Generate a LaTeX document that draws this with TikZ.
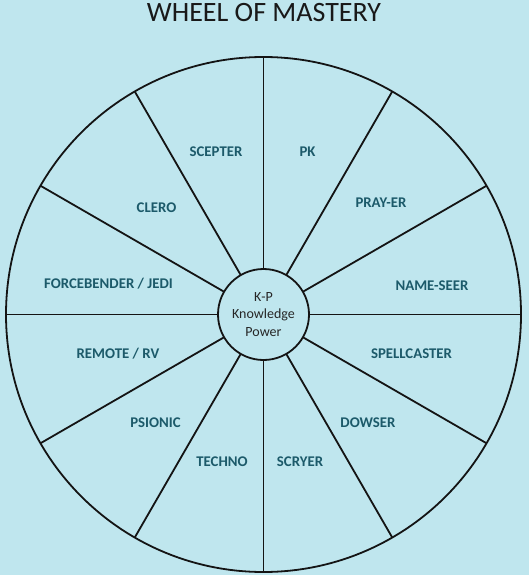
\documentclass[tikz,border=0pt]{standalone}
\usepackage{fontspec}
\setmainfont{Carlito}
\definecolor{bgc}{RGB}{191,230,238}
\definecolor{labc}{RGB}{28,90,106}
\definecolor{linec}{RGB}{20,20,20}
\begin{document}
\begin{tikzpicture}[x=1pt,y=1pt,
  ring/.style={circle,draw=linec,line width=1.8pt,inner sep=0pt,outer sep=0pt},
  spoke/.style={draw=linec,line width=1.8pt},
  lab/.style={text=labc,font=\fontsize{14.8}{16}\selectfont\bfseries,inner sep=0pt},
  hubtext/.style={text=black!85,font=\fontsize{14}{17.5}\selectfont,align=center}]
\fill[bgc] (0,0) rectangle (529,-575);
\useasboundingbox (0,0) rectangle (529,-575);
\node[font=\fontsize{28}{32}\selectfont,text=black!90] (title) at (264,-13) {WHEEL OF MASTERY};
\node[ring,minimum size=515pt] (rim) at (263.5,-314.5) {};
\node[ring,minimum size=91pt] (hub) at (263.5,-314.5) {};
\node[hubtext] (hubtxt) at (263.5,-314.5) {K-P\\Knowledge\\Power};
\foreach \a in {0,30,...,330} {\draw[spoke] (hub.\a) -- (rim.\a);}
\node[lab] (l1) at (216,-152) {SCEPTER};
\node[lab] (l2) at (307.5,-152) {PK};
\node[lab] (l3) at (381,-203) {PRAY-ER};
\node[lab] (l4) at (156.5,-208) {CLERO};
\node[lab] (l5) at (432,-286) {NAME-SEER};
\node[lab] (l6) at (108.5,-284) {FORCEBENDER / JEDI};
\node[lab] (l7) at (411.5,-354) {SPELLCASTER};
\node[lab] (l8) at (118,-354) {REMOTE / RV};
\node[lab] (l9) at (155.5,-423) {PSIONIC};
\node[lab] (l10) at (368,-423) {DOWSER};
\node[lab] (l11) at (222,-462) {TECHNO};
\node[lab] (l12) at (300,-462) {SCRYER};
\end{tikzpicture}
\end{document}
